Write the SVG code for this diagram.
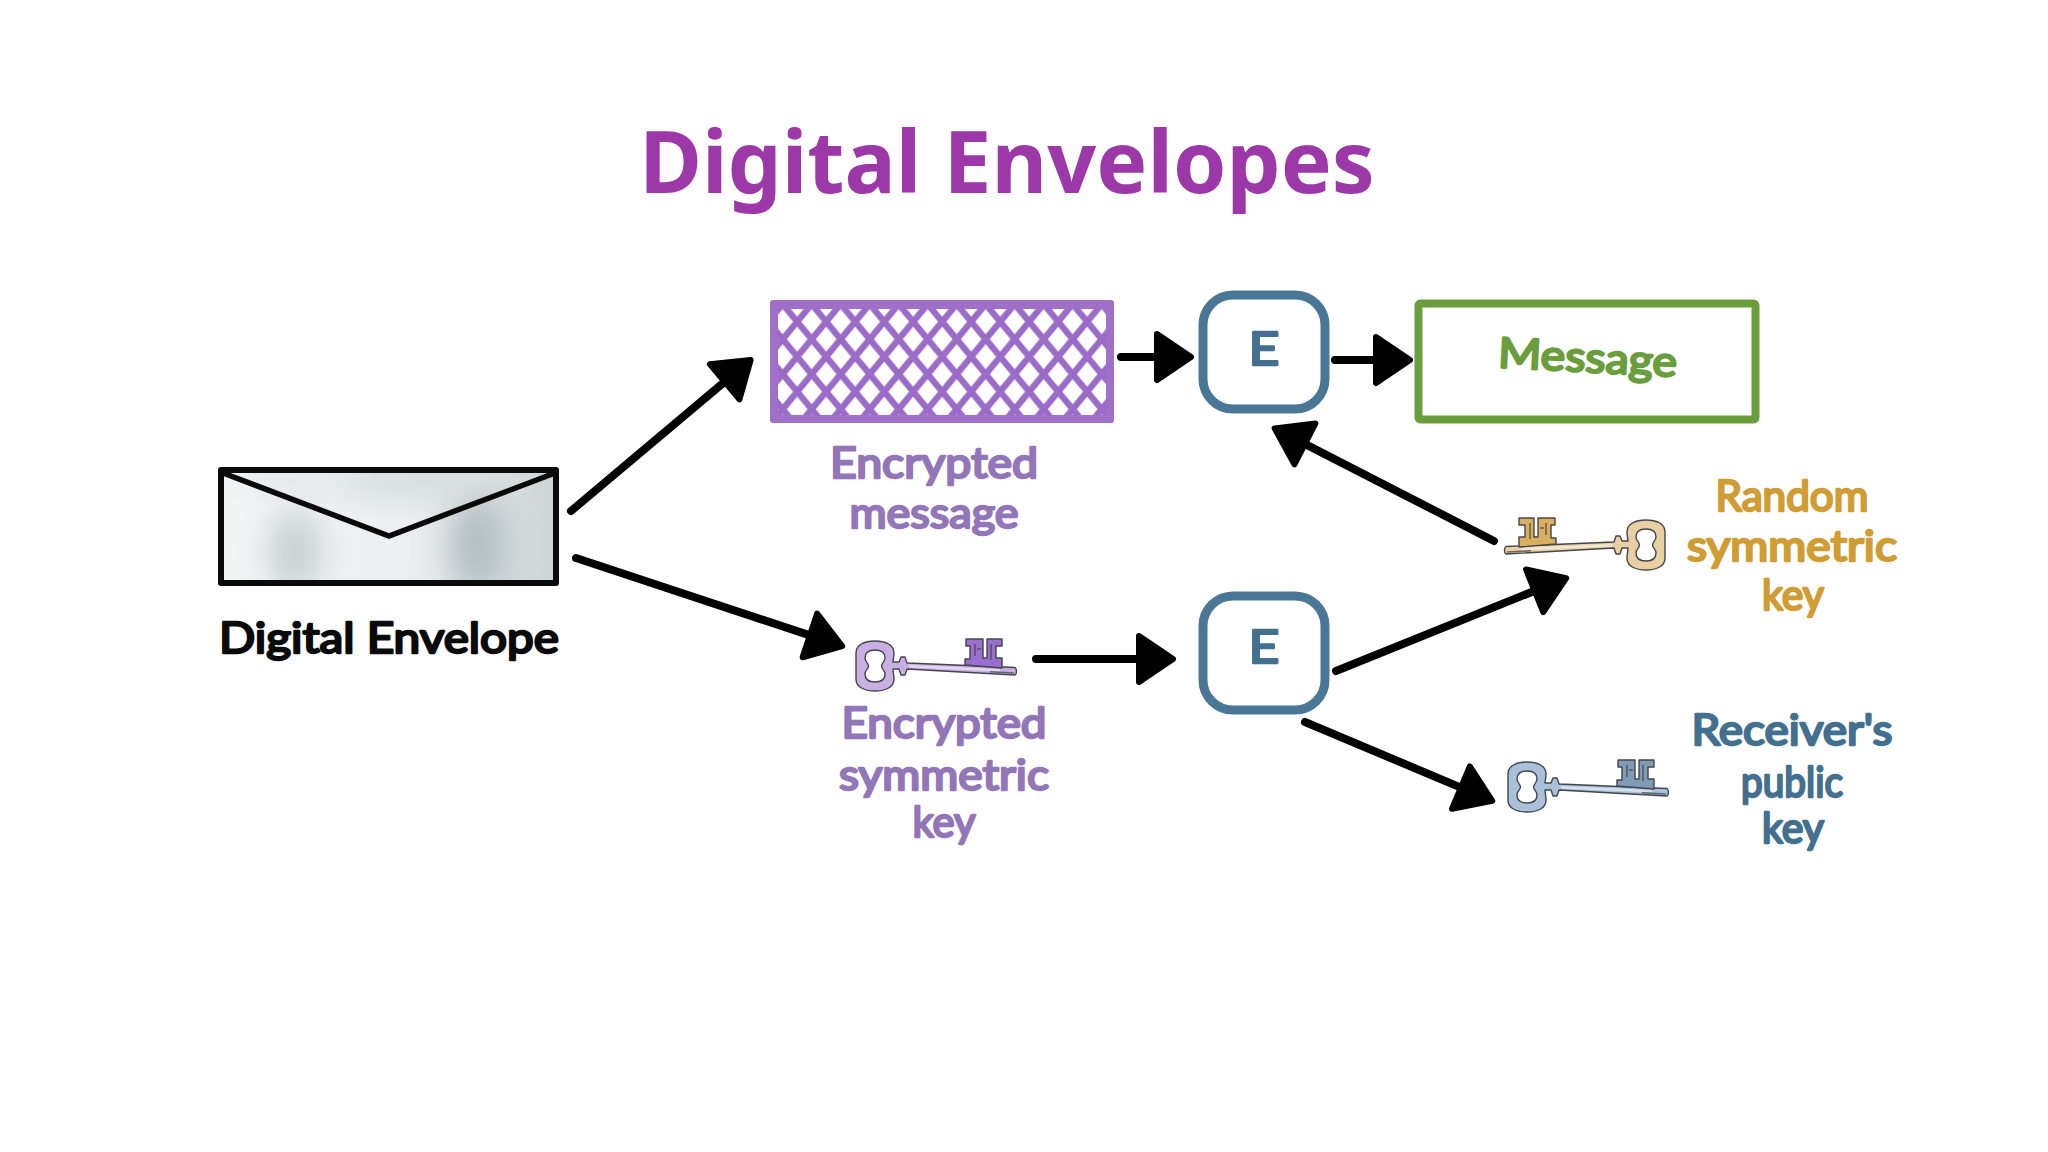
<svg xmlns="http://www.w3.org/2000/svg" width="2048" height="1152" viewBox="0 0 2048 1152">
<style>
.hand{font-family:"Lato","Noto Sans",sans-serif;font-size:42px;font-weight:400;text-anchor:middle;stroke-width:2.4;stroke-linejoin:round;stroke-linecap:round}
.purple{fill:#9276b8;stroke:#9276b8}
.gold{fill:#cf9d33;stroke:#cf9d33}
.blue{fill:#44708f;stroke:#44708f}
.green{fill:#6a9e3c;stroke:#6a9e3c}
.black{fill:#0a0a0a;stroke:#0a0a0a}
.ebox{fill:#fff;stroke:#4a7796;stroke-width:9}
.arrow{fill:none;stroke:#000;stroke-width:8;stroke-linecap:round;marker-end:url(#head)}
.kbody{fill:var(--k);stroke:#45454c;stroke-width:1.4;stroke-linejoin:round}
.kbit{fill:var(--b);stroke:#45454c;stroke-width:1.4;stroke-linejoin:round}
.klight{fill:#fff;fill-opacity:.5;stroke:none}
.kshade{fill:none;stroke:#45454c;stroke-width:1.6;stroke-opacity:.75}
.khole{fill:#fff;stroke:#45454c;stroke-width:1.4}
</style>
<defs>
<marker id="head" markerUnits="userSpaceOnUse" markerWidth="42" markerHeight="54" viewBox="0 0 42 54" refX="30" refY="27" orient="auto" overflow="visible">
<path d="M3 4L37 27L3 50Z" fill="#000" stroke="#000" stroke-width="6" stroke-linejoin="round"/>
</marker>
<pattern id="lattice" patternUnits="userSpaceOnUse" x="797.2" y="304.2" width="29" height="35">
<rect width="29" height="35" fill="#fff"/>
<path d="M0 17.500L14.500 0L29 17.500L14.500 35Z" fill="none" stroke="#9a6cc8" stroke-width="6.400"/>
</pattern>
<clipPath id="envClip"><rect x="221" y="470" width="335" height="113"/></clipPath>
<filter id="soft" x="-80%" y="-80%" width="260%" height="260%"><feGaussianBlur stdDeviation="17"/></filter>
<linearGradient id="envBase" x1="0" y1="0" x2="1" y2="0">
<stop offset="0" stop-color="#f3f5f5"/><stop offset=".55" stop-color="#eceff0"/><stop offset="1" stop-color="#cdd5d7"/>
</linearGradient>
<g id="key">
<path class="kbody" d="M-19 -13C-19 -21 -11 -25 0 -25C11 -25 19 -21 19 -13C19 -9 18 -6 18 -4L24 -4L26 -9L30 -9L32 -3L140 1.500C142 3 142 7.500 140 9L32 3L30 9L26 9L24 3L18 3C18 6 19 9 19 13C19 21 11 25 0 25C-11 25 -19 21 -19 13Z"/>
<path class="klight" d="M34 -1L125 3L125 5.500L34 1.500Z"/>
<path class="kshade" d="M115 5.800L139 7"/>
<path class="khole" d="M0 -16C6.500 -16 10 -13 10 -8C10 -4 6.500 -3 6.500 0C6.500 3 10 4 10 8C10 13 6.500 16 0 16C-6.500 16 -10 13 -10 8C-10 4 -6.500 3 -6.500 0C-6.500 -3 -10 -4 -10 -8C-10 -13 -6.500 -16 0 -16Z"/>
<path class="kbit" d="M90 -1L90 -7L95 -7L95 -20L91 -20L91 -27L108 -27L108 -8L112 -8L112 -27L127 -27L127 -20L121 -20L121 -8L127 -8L127 2Z"/>
<path class="kshade" d="M100 -22L100 -10M102 -17L106 -17M116 -22L116 -6"/>
</g>
</defs>

<rect width="2048" height="1152" fill="#fff"/>
<text id="title" x="1007" y="193" text-anchor="middle" font-family="'Noto Sans',sans-serif" font-weight="700" font-size="85.700" fill="#9c38a8">Digital Envelopes</text>

<g id="connectors">
<line class="arrow" x1="571" y1="511" x2="745.300" y2="364.400"/>
<line class="arrow" x1="576" y1="558" x2="835.500" y2="643.900"/>
<line class="arrow" x1="1121" y1="357" x2="1184" y2="357"/>
<line class="arrow" x1="1335" y1="360" x2="1403" y2="360"/>
<line class="arrow" x1="1494" y1="541" x2="1280.900" y2="431.600"/>
<line class="arrow" x1="1036" y1="659" x2="1166" y2="659"/>
<line class="arrow" x1="1336" y1="671" x2="1559.700" y2="580.700"/>
<line class="arrow" x1="1305" y1="722" x2="1485.800" y2="798.100"/>
</g>

<g id="digital-envelope">
<g clip-path="url(#envClip)">
<rect x="221" y="470" width="335" height="113" fill="url(#envBase)"/>
<ellipse cx="295" cy="552" rx="24" ry="44" fill="#c4ced0" filter="url(#soft)"/>
<ellipse cx="478" cy="545" rx="26" ry="50" fill="#aebcbf" filter="url(#soft)"/>
<ellipse cx="400" cy="480" rx="70" ry="14" fill="#cfd8da" filter="url(#soft)"/>
<ellipse cx="290" cy="476" rx="50" ry="10" fill="#d8dfe0" filter="url(#soft)"/>
</g>
<rect x="221" y="470" width="335" height="113" fill="none" stroke="#0a0a0a" stroke-width="6" stroke-linejoin="round"/>
<path d="M223 473L389 536L555 473" fill="none" stroke="#0a0a0a" stroke-width="5.500"/>
<text class="hand black" x="389" y="653" textLength="340" lengthAdjust="spacingAndGlyphs">Digital  Envelope</text>
</g>

<g id="encrypted-message">
<rect x="770" y="300" width="344" height="123" rx="3" fill="#a070c8"/>
<rect x="778" y="309" width="328" height="106" rx="2" fill="url(#lattice)"/>
<text class="hand purple" x="934" y="478" textLength="208" lengthAdjust="spacingAndGlyphs">Encrypted</text>
<text class="hand purple" x="934" y="528" textLength="169" lengthAdjust="spacingAndGlyphs">message</text>
</g>

<g id="encrypt-top">
<rect class="ebox" x="1203" y="295" width="122" height="114" rx="30"/>
<text class="hand blue" x="1264" y="365" style="font-size:47px" textLength="31" lengthAdjust="spacingAndGlyphs">E</text>
</g>

<g id="message">
<rect x="1418.500" y="303.500" width="337" height="116" rx="2" fill="#fff" stroke="#6a9e3c" stroke-width="8"/>
<text class="hand green" x="1587" y="372" textLength="179" lengthAdjust="spacingAndGlyphs" transform="rotate(3 1587 372)">Message</text>
</g>

<g id="encrypt-bottom">
<rect class="ebox" x="1203" y="596" width="122" height="114" rx="30"/>
<text class="hand blue" x="1264" y="663" style="font-size:47px" textLength="31" lengthAdjust="spacingAndGlyphs">E</text>
</g>

<g id="encrypted-symmetric-key">
<use href="#key" transform="translate(875 666)" style="--k:#c9b0e4;--b:#9a6fd0"/>
<text class="hand purple" x="944" y="738" textLength="205" lengthAdjust="spacingAndGlyphs">Encrypted</text>
<text class="hand purple" x="944" y="790" textLength="210" lengthAdjust="spacingAndGlyphs">symmetric</text>
<text class="hand purple" x="944" y="837" textLength="63" lengthAdjust="spacingAndGlyphs">key</text>
</g>

<g id="random-symmetric-key">
<use href="#key" transform="translate(1646 545) scale(-1 1)" style="--k:#e8cfa4;--b:#d9b060"/>
<text class="hand gold" x="1792" y="511" textLength="153" lengthAdjust="spacingAndGlyphs">Random</text>
<text class="hand gold" x="1792" y="561" textLength="210" lengthAdjust="spacingAndGlyphs">symmetric</text>
<text class="hand gold" x="1793" y="610" textLength="62" lengthAdjust="spacingAndGlyphs">key</text>
</g>

<g id="receivers-public-key">
<use href="#key" transform="translate(1527 787)" style="--k:#a9c2da;--b:#7f9cb6"/>
<text class="hand blue" x="1792" y="745" textLength="201" lengthAdjust="spacingAndGlyphs">Receiver's</text>
<text class="hand blue" x="1792" y="797" textLength="102" lengthAdjust="spacingAndGlyphs">public</text>
<text class="hand blue" x="1793" y="843" textLength="62" lengthAdjust="spacingAndGlyphs">key</text>
</g>
</svg>
